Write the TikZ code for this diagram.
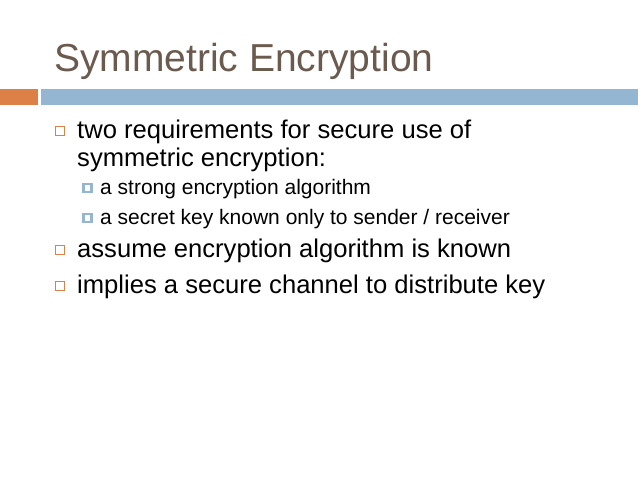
\documentclass[tikz,border=0pt]{standalone}
\usepackage{fontspec}
\setmainfont{Liberation Sans}
\definecolor{titlec}{HTML}{6B5A4E}
\definecolor{orangec}{HTML}{DD8047}
\definecolor{bluec}{HTML}{94B6D2}
\begin{document}
\begin{tikzpicture}[x=1pt,y=-1pt,
  txt/.style={anchor=base west,inner sep=0pt,font=\fontsize{25.6}{30}\selectfont},
  stxt/.style={anchor=base west,inner sep=0pt,font=\fontsize{21}{25}\selectfont},
  hb/.style={draw=orangec,line width=0.9pt,minimum size=9pt,inner sep=0pt},
  sb/.style={draw=bluec,fill=white,line width=2.6pt,minimum size=8pt,inner sep=0pt}]
\useasboundingbox (0,0) rectangle (638,478);
\fill[white] (0,0) rectangle (638,478);
\node[anchor=base west,inner sep=0pt,text=titlec,font=\fontsize{39}{46}\selectfont] (title) at (54,72) {Symmetric Encryption};
\fill[orangec] (0,89) rectangle (38,105);
\fill[bluec] (41,89) rectangle (638,105);
\node[hb] (b1) at (60,131) {};
\node[txt] (t1) at (77,139) {two requirements for secure use of};
\node[txt] (t1b) at (77,167) {symmetric encryption:};
\node[sb] (s1) at (87.5,188) {};
\node[stxt] (u1) at (100,195) {a strong encryption algorithm};
\node[sb] (s2) at (87.5,218) {};
\node[stxt] (u2) at (100,225) {a secret key known only to sender / receiver};
\node[hb] (b2) at (60,250) {};
\node[txt] (t2) at (77,258) {assume encryption algorithm is known};
\node[hb] (b3) at (60,286) {};
\node[txt] (t3) at (77,294) {implies a secure channel to distribute key};
\end{tikzpicture}
\end{document}
